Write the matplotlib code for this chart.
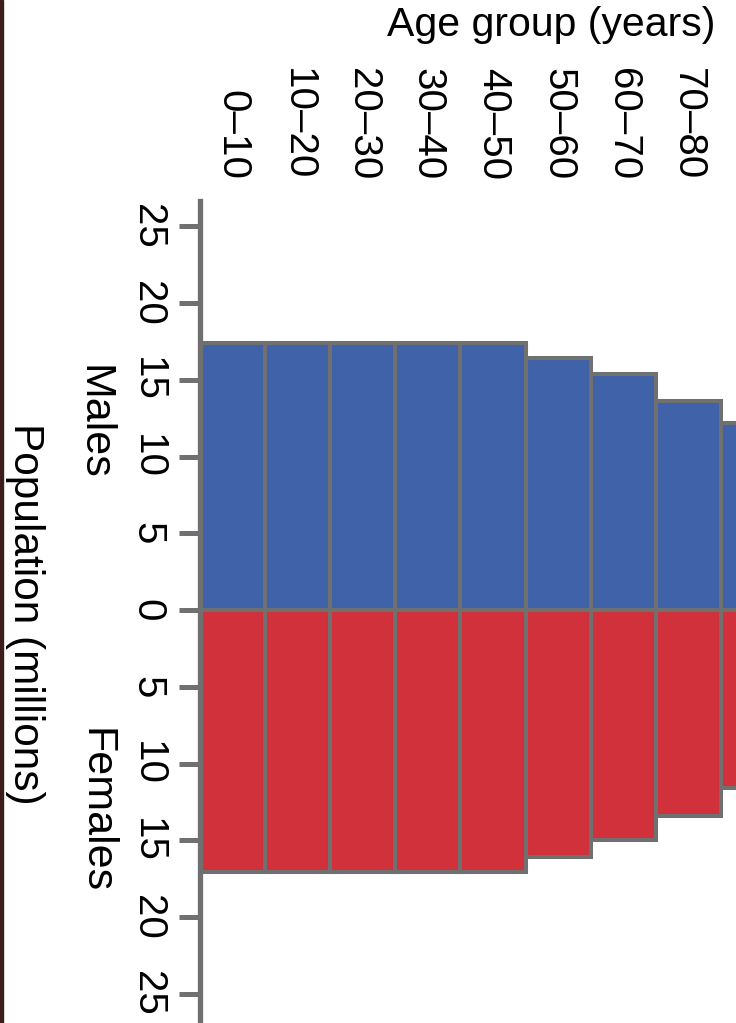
import matplotlib
matplotlib.use("Agg")
import matplotlib.pyplot as plt
from matplotlib.patches import Rectangle

plt.rcParams['font.family'] = ['Liberation Sans', 'DejaVu Sans']

age_groups = ["0–10", "10–20", "20–30", "30–40", "40–50", "50–60", "60–70", "70–80", "80–90"]
males = [17.4, 17.4, 17.4, 17.4, 17.4, 16.4, 15.4, 13.6, 12.2]
females = [17.1, 17.1, 17.1, 17.1, 17.1, 16.1, 15.0, 13.4, 11.6]
ticks = [25, 20, 15, 10, 5, 0, -5, -10, -15, -20, -25]
tick_labels = [str(abs(t)) for t in ticks]

W, H = 736, 1023
fig = plt.figure(figsize=(W / 100, H / 100), dpi=100)

# axes from x=200px to right edge, y=201px to 1020px
ax = fig.add_axes([200 / W, (H - 1020) / H, (W - 200) / W, (1020 - 201) / H])

blue = '#3f62a8'
red = '#d0313a'
gray = '#707070'
lw = 2.9

xs = list(range(len(age_groups)))
ax.bar(xs, males, width=1, align='edge', color=blue, edgecolor=gray, linewidth=lw, zorder=2)
ax.bar(xs, [-f for f in females], width=1, align='edge', color=red, edgecolor=gray, linewidth=lw, zorder=2)

for s in ['top', 'right', 'bottom']:
    ax.spines[s].set_visible(False)
ax.spines['left'].set_color(gray)
ax.spines['left'].set_linewidth(3.8)
ax.spines['left'].set_zorder(3)

ax.set_yticks(ticks)
ax.set_yticklabels(tick_labels, rotation=-90, va='center', ha='right', fontsize=29)
ax.tick_params(axis='y', length=15, width=3.6, color=gray, pad=9)

# only the first eight groups have visible labels; the last bar is cut by the frame
visible = len(age_groups) - 1
ax.xaxis.tick_top()
ax.set_xticks([x + 0.5 for x in xs[:visible]])
ax.set_xticklabels(age_groups[:visible], rotation=-90, ha='center', va='bottom', fontsize=29)
ax.tick_params(axis='x', length=0, pad=15)

ax.set_xlim(0, (W - 200) / 65.1)
ax.set_ylim(-(1020 - 610) / 15.35, (610 - 201) / 15.35)

fig.text(715 / W, 1 - 25 / H, "Age group (years)", ha='right', va='center', fontsize=29.5)
fig.text(93 / W, 1 - 422 / H, "Males", rotation=-90, ha='center', va='center', fontsize=31)
fig.text(95 / W, 1 - 811 / H, "Females", rotation=-90, ha='center', va='center', fontsize=31)
fig.text(25 / W, 1 - 614 / H, "Population (millions)", rotation=-90, ha='center', va='center', fontsize=30.5)

fig.patches.append(Rectangle((0, 0), 3 / W, 1, transform=fig.transFigure, color='#3d1c1c', zorder=10))

fig.savefig("out.png", dpi=100)
